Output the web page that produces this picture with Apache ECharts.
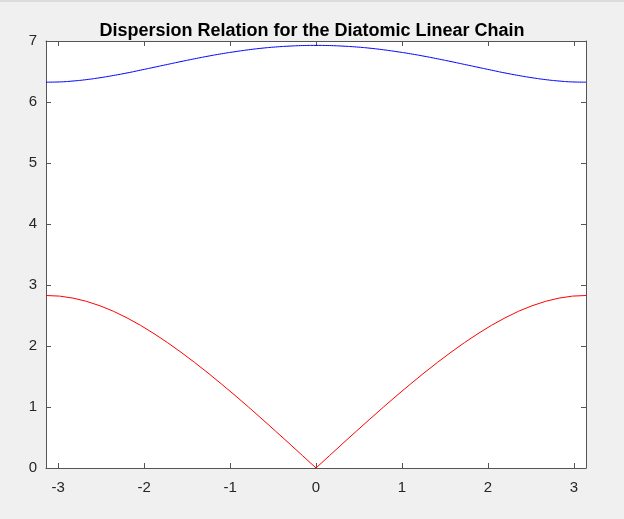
<!DOCTYPE html>
<html style="height: 100%">
<head>
    <meta charset="utf-8">
</head>
<body style="height: 100%; margin: 0; background: #f0f0f0">
    <div id="container" style="height: 100%"></div>
    <script type="text/javascript" src="https://cdn.jsdelivr.net/npm/echarts@6/dist/echarts.min.js"></script>
    <script type="text/javascript">
        // wave number k, from -pi to pi
        var kValues = [-3.142, -2.985, -2.827, -2.670, -2.513, -2.356, -2.199, -2.042, -1.885, -1.728,
                       -1.571, -1.414, -1.257, -1.100, -0.942, -0.785, -0.628, -0.471, -0.314, -0.157,
                       0,
                       0.157, 0.314, 0.471, 0.628, 0.785, 0.942, 1.100, 1.257, 1.414,
                       1.571, 1.728, 1.885, 2.042, 2.199, 2.356, 2.513, 2.670, 2.827, 2.985, 3.142];
        // optical branch (blue)
        var opticalBranch = [6.325, 6.329, 6.344, 6.367, 6.398, 6.435, 6.476, 6.522, 6.569, 6.616,
                             6.663, 6.708, 6.751, 6.790, 6.825, 6.856, 6.882, 6.902, 6.916, 6.925,
                             6.928,
                             6.925, 6.916, 6.902, 6.882, 6.856, 6.825, 6.790, 6.751, 6.708,
                             6.663, 6.616, 6.569, 6.522, 6.476, 6.435, 6.398, 6.367, 6.344, 6.329, 6.325];
        // acoustic branch (red)
        var acousticBranch = [2.828, 2.818, 2.785, 2.732, 2.659, 2.569, 2.461, 2.339, 2.203, 2.056,
                              1.898, 1.732, 1.558, 1.377, 1.190, 0.999, 0.803, 0.605, 0.405, 0.203,
                              0,
                              0.203, 0.405, 0.605, 0.803, 0.999, 1.190, 1.377, 1.558, 1.732,
                              1.898, 2.056, 2.203, 2.339, 2.461, 2.569, 2.659, 2.732, 2.785, 2.818, 2.828];
        var xTicks = [-3, -2, -1, 0, 1, 2, 3];

        function pairs(xs, ys) {
            var out = [];
            for (var i = 0; i < xs.length; i++) {
                out.push([xs[i], ys[i]]);
            }
            return out;
        }

        var axisColor = '#555555';
        var labelColor = '#262626';
        var font = 'Liberation Sans';

        function boxLine() {
            return { show: true, onZero: false, lineStyle: { color: axisColor, width: 1 } };
        }

        var dom = document.getElementById("container");
        var myChart = echarts.init(dom);
        var option = {
            backgroundColor: '#f0f0f0',
            animation: false,
            title: {
                text: 'Dispersion Relation for the Diatomic Linear Chain',
                left: 'center',
                top: 17,
                textStyle: {
                    fontFamily: font,
                    fontWeight: 'bold',
                    fontSize: 18,
                    color: '#000'
                }
            },
            graphic: [{
                type: 'rect',
                shape: { x: 0, y: 0, width: 624, height: 2 },
                style: { fill: '#dcdcdc' }
            }],
            grid: {
                left: 46,
                right: 38,
                top: 41,
                bottom: 51,
                show: true,
                backgroundColor: '#ffffff',
                borderWidth: 0
            },
            xAxis: [{
                type: 'value',
                min: -Math.PI,
                max: Math.PI,
                position: 'bottom',
                axisLine: boxLine(),
                axisTick: { show: true, inside: true, length: 5, customValues: xTicks, lineStyle: { color: axisColor } },
                axisLabel: {
                    customValues: xTicks,
                    margin: 12,
                    fontFamily: font,
                    fontSize: 15,
                    color: labelColor
                },
                splitLine: { show: false }
            }, {
                type: 'value',
                min: -Math.PI,
                max: Math.PI,
                position: 'top',
                axisLine: boxLine(),
                axisTick: { show: true, inside: true, length: 5, customValues: xTicks, lineStyle: { color: axisColor } },
                axisLabel: { show: false },
                splitLine: { show: false }
            }],
            yAxis: [{
                type: 'value',
                min: 0,
                max: 7,
                interval: 1,
                position: 'left',
                axisLine: boxLine(),
                axisTick: { show: true, inside: true, length: 5, lineStyle: { color: axisColor } },
                axisLabel: {
                    margin: 9,
                    fontFamily: font,
                    fontSize: 15,
                    color: labelColor
                },
                splitLine: { show: false }
            }, {
                type: 'value',
                min: 0,
                max: 7,
                interval: 1,
                position: 'right',
                axisLine: boxLine(),
                axisTick: { show: true, inside: true, length: 5, lineStyle: { color: axisColor } },
                axisLabel: { show: false },
                splitLine: { show: false }
            }],
            series: [{
                name: 'optical',
                type: 'line',
                xAxisIndex: 0,
                yAxisIndex: 0,
                data: pairs(kValues, opticalBranch),
                smooth: true,
                showSymbol: false,
                lineStyle: { color: '#0000ff', width: 1 }
            }, {
                name: 'acoustic',
                type: 'line',
                xAxisIndex: 0,
                yAxisIndex: 0,
                data: pairs(kValues, acousticBranch),
                smooth: false,
                showSymbol: false,
                lineStyle: { color: '#ff0000', width: 1 }
            }]
        };
        myChart.setOption(option, true);
    </script>
</body>
</html>
